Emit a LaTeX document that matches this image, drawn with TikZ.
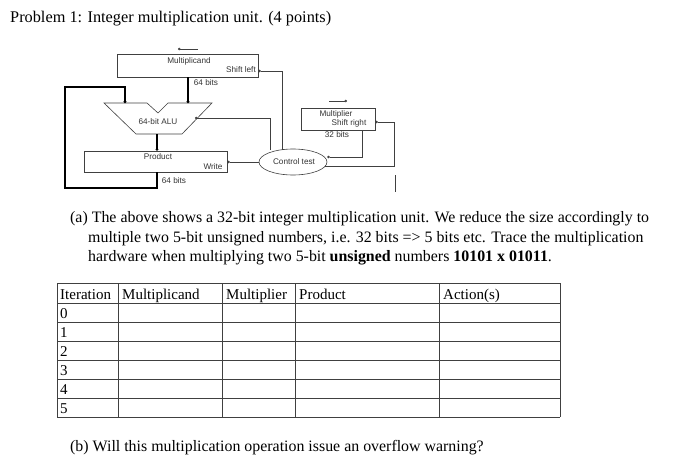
\documentclass[tikz,border=0pt]{standalone}
\usepackage{fontspec}
\setmainfont{Liberation Serif}
\newfontfamily\arialf{Liberation Sans}
\usetikzlibrary{shapes.geometric,arrows.meta}
\begin{document}
\begin{tikzpicture}[x=1pt,y=-1pt,
  lbl/.style={font=\arialf\fontsize{8.2}{9}\selectfont,inner sep=0pt,text=black!80},
  txt/.style={font=\fontsize{15.9}{17}\selectfont,inner sep=0pt,anchor=base west},
  cell/.style={font=\fontsize{15}{16}\selectfont,inner sep=0pt,anchor=base west},
  thin/.style={draw=black!75,line width=0.6pt},
  thick/.style={draw=black,line width=2pt},
  ar/.style={-{Circle[length=2.5pt]}}]
\useasboundingbox (0,0) rectangle (681,463);
\node[txt,font=\fontsize{16.3}{17}\selectfont] (title) at (10,22) {Problem 1: Integer multiplication unit. (4 points)};
% boxes
\node[thin,draw,minimum width=141pt,minimum height=23pt,inner sep=0pt] (mcand) at (187.5,65.5) {};
\node[lbl] (mcandt) at (189,61) {Multiplicand};
\node[lbl] (sl) at (241,70) {Shift left};
\node[thin,draw,minimum width=143pt,minimum height=21pt,inner sep=0pt] (prod) at (155.5,161.5) {};
\node[lbl] (prodt) at (158,157) {Product};
\node[lbl] (wr) at (213,167) {Write};
\node[thin,draw,minimum width=74pt,minimum height=22pt,inner sep=0pt] (mplier) at (338,119) {};
\node[lbl] (mpt) at (336,114) {Multiplier};
\node[lbl] (sr) at (349,123) {Shift right};
\node[lbl] (b32) at (337,135) {32 bits};
\node[thin,draw,ellipse,minimum width=68pt,minimum height=26pt,inner sep=0pt] (ctrl) at (293,162) {};
\node[lbl] (ctrlt) at (294,162) {Control test};
\node[lbl] (b64a) at (206,83) {64 bits};
\node[lbl] (b64b) at (174,181) {64 bits};
% ALU
\draw[thin] (104,103) -- (147,103) -- (158,113) -- (168,103) -- (212,103) -- (182,134) -- (136,134) -- cycle;
\coordinate (alutop1) at (125,103);
\coordinate (alutop2) at (188,103);
\coordinate (alubot) at (157,134);
\coordinate (aluright) at (195,118);
\node[lbl] (alut) at (158,122) {64-bit ALU};
% shift arrows
\coordinate (a1s) at (198,49); \coordinate (a1e) at (178,49);
\draw[thin,ar] (a1s) -- (a1e);
\coordinate (a2s) at (329,101); \coordinate (a2e) at (347,101);
\draw[thin,ar] (a2s) -- (a2e);
% thick
\draw[thick,ar] (mcand.south -| alutop2) -- (alutop2);
\draw[thick,ar] (alubot) -- (prod.north -| alubot);
\draw[thick,ar] (prod.south -| alubot) -- (157,188) -- (65,188) -- (65,87) -- (125,87) -- (alutop1);
% control lines
\draw[thin,ar] (270,150) -- (270,118) -- (aluright);
\draw[thin,ar] (282,150) -- (282,71) -- (mcand.east |- 0,71);
\draw[thin,ar] (ctrl.west) -- (prod.east |- ctrl.west);
\draw[thin,ar] (362,130) -- (362,157) -- (ctrl.east |- 0,157);
\draw[thin,ar] (325,166) -- (394,166) -- (394,122) -- (mplier.east |- 0,122);
\draw[thin] (395,175) -- (395,192);
% paragraph
\node[txt] (p1) at (70,222) {(a) The above shows a 32-bit integer multiplication unit. We reduce the size accordingly to};
\node[txt] (p2) at (88,242) {multiple two 5-bit unsigned numbers, i.e. 32 bits => 5 bits etc. Trace the multiplication};
\node[txt] (p3) at (88,261) {hardware when multiplying two 5-bit \textbf{unsigned} numbers \textbf{10101 x 01011}.};
% table
\foreach \y in {283,303,322,341,360,379,398,417} \draw[thin] (57,\y) -- (560,\y);
\foreach \x in {57,118,222,295,439,560} \draw[thin] (\x,283) -- (\x,417);
\node[cell] (h1) at (60,299) {Iteration};
\node[cell] (h2) at (122,299) {Multiplicand};
\node[cell] (h3) at (226,299) {Multiplier};
\node[cell] (h4) at (299,299) {Product};
\node[cell] (h5) at (443,299) {Action(s)};
\foreach \n/\y in {0/318,1/337,2/356,3/375,4/394,5/413} \node[cell] (r\n) at (60,\y) {\n};
\node[txt] (pb) at (70,451) {(b) Will this multiplication operation issue an overflow warning?};
\end{tikzpicture}
\end{document}
